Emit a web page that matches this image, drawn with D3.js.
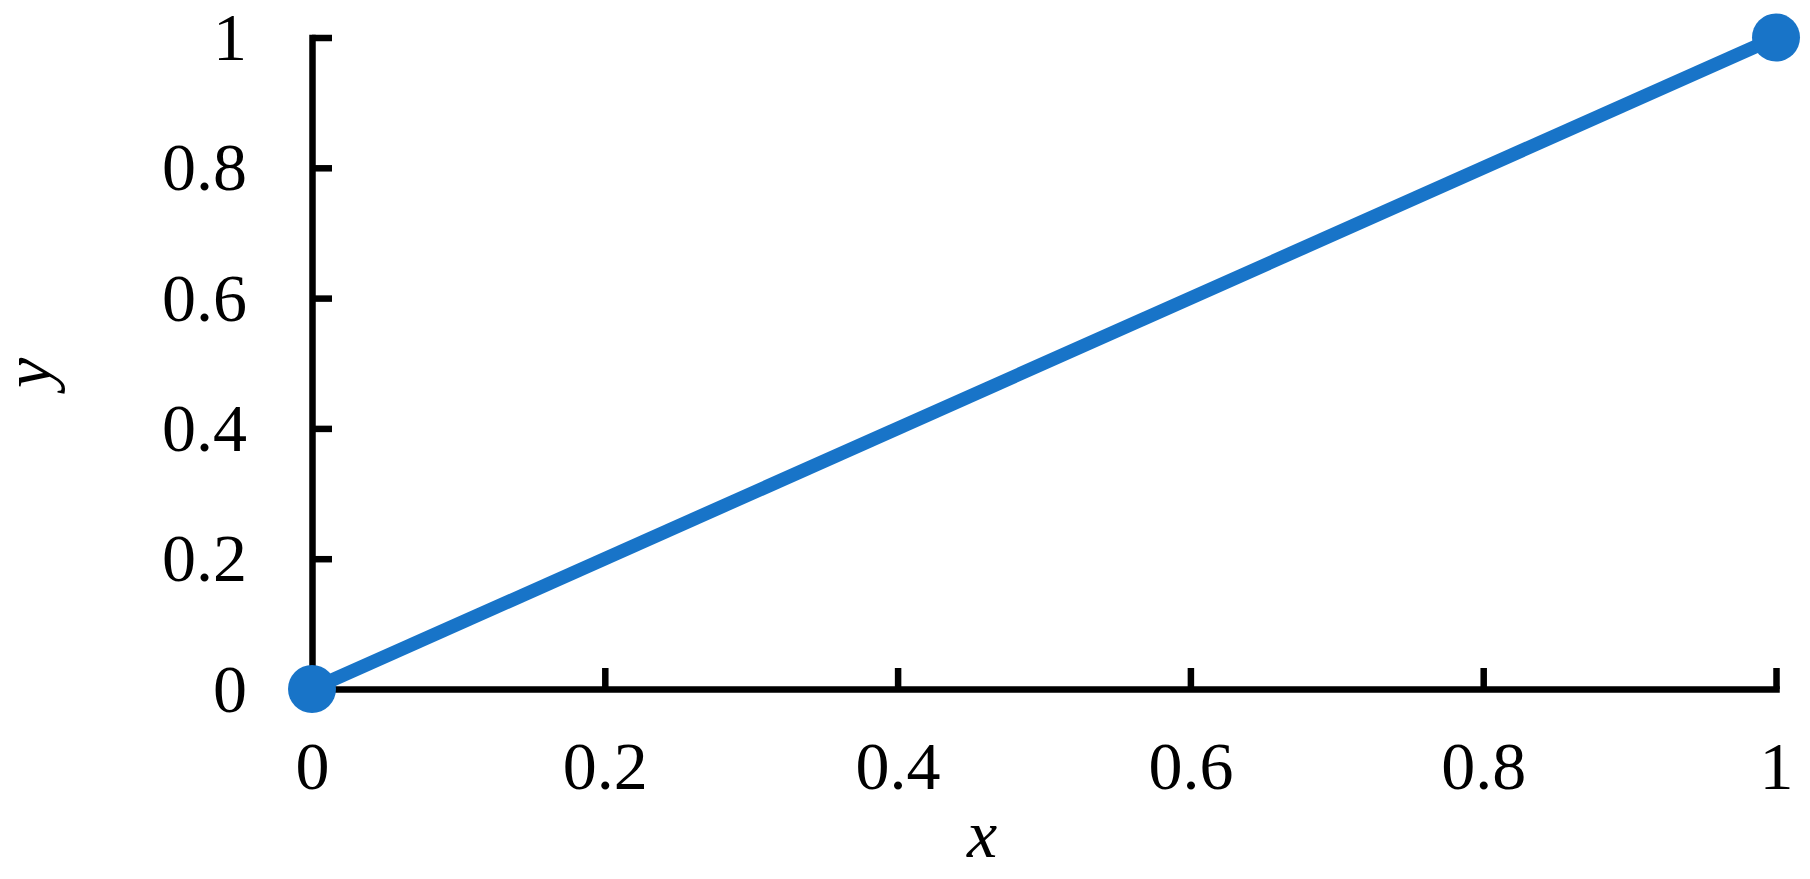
<!DOCTYPE html>
<html>
<head>
<meta charset="utf-8">
<script src="https://cdn.jsdelivr.net/npm/d3@7"></script>
<style>
  body { margin: 0; background: #fff; }
  text { font-family: "Liberation Serif", "Times New Roman", serif; fill: #000; }
</style>
</head>
<body>
<div id="chart"></div>
<script>
// data points
const xValues = [0, 1]
const yValues = [0, 1]
const xTicks = [0, 0.2, 0.4, 0.6, 0.8, 1]
const yTicks = [0, 0.2, 0.4, 0.6, 0.8, 1]
const xTitle = "x"
const yTitle = "y"

const totalW = 1810, totalH = 879
const margin = { top: 37.5, right: 34, bottom: 190, left: 312 }
const width = totalW - margin.left - margin.right
const height = totalH - margin.top - margin.bottom

const blue = "#1874c8"
const fontSize = 68

const svg = d3.select("#chart")
  .append("svg")
  .attr("width", totalW)
  .attr("height", totalH)

const g = svg.append("g")
  .attr("transform", "translate(" + margin.left + "," + margin.top + ")")

const x = d3.scaleLinear().domain([0, 1]).range([0, width])
const y = d3.scaleLinear().domain([0, 1]).range([height, 0])

const fmt = d => d === 0 || d === 1 ? String(d) : d3.format(".1f")(d)

// X axis, ticks pointing inward
const xAxis = g.append("g")
  .attr("transform", "translate(0," + height + ")")
  .call(d3.axisBottom(x).tickValues(xTicks).tickFormat(fmt).tickSizeInner(-21).tickSizeOuter(0).tickPadding(0))
xAxis.selectAll("text")
  .attr("y", 100).attr("dy", 0)
  .style("font-size", fontSize + "px")

// Y axis
const yAxis = g.append("g")
  .call(d3.axisLeft(y).tickValues(yTicks).tickFormat(fmt).tickSizeInner(-20).tickSizeOuter(0).tickPadding(0))
yAxis.selectAll("text")
  .attr("x", -65).attr("dy", 22)
  .style("font-size", fontSize + "px")

g.selectAll(".domain")
  .attr("stroke", "#000")
  .attr("stroke-width", 6.5)
  .attr("stroke-linecap", "square")
g.selectAll(".tick line")
  .attr("stroke", "#000")
  .attr("stroke-width", 6.5)

// axis titles
svg.append("text")
  .attr("x", 982)
  .attr("y", 857)
  .attr("text-anchor", "middle")
  .style("font-size", fontSize + "px")
  .style("font-style", "italic")
  .text(xTitle)

svg.append("text")
  .attr("transform", "translate(51,373) rotate(-90)")
  .attr("text-anchor", "middle")
  .style("font-size", fontSize + "px")
  .style("font-style", "italic")
  .text(yTitle)

// line + markers
const pts = xValues.map((v, i) => ({ x: v, y: yValues[i] }))

g.append("path")
  .datum(pts)
  .attr("fill", "none")
  .attr("stroke", blue)
  .attr("stroke-width", 13.5)
  .attr("d", d3.line().x(d => x(d.x)).y(d => y(d.y)))

g.selectAll("circle")
  .data(pts)
  .enter()
  .append("circle")
  .attr("cx", d => x(d.x))
  .attr("cy", d => y(d.y))
  .attr("r", 24)
  .attr("fill", blue)
</script>
</body>
</html>
